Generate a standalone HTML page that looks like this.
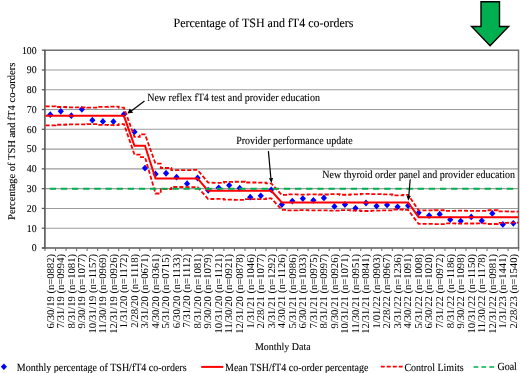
<!DOCTYPE html>
<html><head><meta charset="utf-8"><style>
html,body{margin:0;padding:0;background:#fff;width:520px;height:373px;overflow:hidden}
svg{display:block;font-family:"Liberation Serif",serif;fill:#000;text-rendering:geometricPrecision}
text{fill:#000;stroke:#000;stroke-width:0.1px}
</style></head><body>
<svg width="520" height="373" viewBox="0 0 520 373">
<rect width="520" height="373" fill="#fff"/>
<line x1="45.0" y1="228.22" x2="518.625" y2="228.22" stroke="#9c9c9c" stroke-width="1.1"/>
<line x1="45.0" y1="208.44" x2="518.625" y2="208.44" stroke="#9c9c9c" stroke-width="1.1"/>
<line x1="45.0" y1="188.66" x2="518.625" y2="188.66" stroke="#9c9c9c" stroke-width="1.1"/>
<line x1="45.0" y1="168.88" x2="518.625" y2="168.88" stroke="#9c9c9c" stroke-width="1.1"/>
<line x1="45.0" y1="149.10" x2="518.625" y2="149.10" stroke="#9c9c9c" stroke-width="1.1"/>
<line x1="45.0" y1="129.32" x2="518.625" y2="129.32" stroke="#9c9c9c" stroke-width="1.1"/>
<line x1="45.0" y1="109.54" x2="518.625" y2="109.54" stroke="#9c9c9c" stroke-width="1.1"/>
<line x1="45.0" y1="89.76" x2="518.625" y2="89.76" stroke="#9c9c9c" stroke-width="1.1"/>
<line x1="45.0" y1="69.98" x2="518.625" y2="69.98" stroke="#9c9c9c" stroke-width="1.1"/>
<polyline points="45.0,50.20 518.52,50.20 518.52,248.0" fill="none" stroke="#707070" stroke-width="1.5"/>
<line x1="44.9" y1="49.70" x2="44.9" y2="248.8" stroke="#555" stroke-width="1.6"/>
<line x1="42.0" y1="248.0" x2="519.23" y2="248.0" stroke="#5a5a5a" stroke-width="1.6"/>
<line x1="41.8" y1="248.00" x2="45.0" y2="248.00" stroke="#5a5a5a" stroke-width="1.3"/>
<line x1="41.8" y1="228.22" x2="45.0" y2="228.22" stroke="#5a5a5a" stroke-width="1.3"/>
<line x1="41.8" y1="208.44" x2="45.0" y2="208.44" stroke="#5a5a5a" stroke-width="1.3"/>
<line x1="41.8" y1="188.66" x2="45.0" y2="188.66" stroke="#5a5a5a" stroke-width="1.3"/>
<line x1="41.8" y1="168.88" x2="45.0" y2="168.88" stroke="#5a5a5a" stroke-width="1.3"/>
<line x1="41.8" y1="149.10" x2="45.0" y2="149.10" stroke="#5a5a5a" stroke-width="1.3"/>
<line x1="41.8" y1="129.32" x2="45.0" y2="129.32" stroke="#5a5a5a" stroke-width="1.3"/>
<line x1="41.8" y1="109.54" x2="45.0" y2="109.54" stroke="#5a5a5a" stroke-width="1.3"/>
<line x1="41.8" y1="89.76" x2="45.0" y2="89.76" stroke="#5a5a5a" stroke-width="1.3"/>
<line x1="41.8" y1="69.98" x2="45.0" y2="69.98" stroke="#5a5a5a" stroke-width="1.3"/>
<line x1="41.8" y1="50.20" x2="45.0" y2="50.20" stroke="#5a5a5a" stroke-width="1.3"/>
<line x1="45.00" y1="248.0" x2="45.00" y2="251.0" stroke="#707070" stroke-width="1.1"/>
<line x1="55.52" y1="248.0" x2="55.52" y2="251.0" stroke="#707070" stroke-width="1.1"/>
<line x1="66.05" y1="248.0" x2="66.05" y2="251.0" stroke="#707070" stroke-width="1.1"/>
<line x1="76.58" y1="248.0" x2="76.58" y2="251.0" stroke="#707070" stroke-width="1.1"/>
<line x1="87.10" y1="248.0" x2="87.10" y2="251.0" stroke="#707070" stroke-width="1.1"/>
<line x1="97.62" y1="248.0" x2="97.62" y2="251.0" stroke="#707070" stroke-width="1.1"/>
<line x1="108.15" y1="248.0" x2="108.15" y2="251.0" stroke="#707070" stroke-width="1.1"/>
<line x1="118.67" y1="248.0" x2="118.67" y2="251.0" stroke="#707070" stroke-width="1.1"/>
<line x1="129.20" y1="248.0" x2="129.20" y2="251.0" stroke="#707070" stroke-width="1.1"/>
<line x1="139.73" y1="248.0" x2="139.73" y2="251.0" stroke="#707070" stroke-width="1.1"/>
<line x1="150.25" y1="248.0" x2="150.25" y2="251.0" stroke="#707070" stroke-width="1.1"/>
<line x1="160.78" y1="248.0" x2="160.78" y2="251.0" stroke="#707070" stroke-width="1.1"/>
<line x1="171.30" y1="248.0" x2="171.30" y2="251.0" stroke="#707070" stroke-width="1.1"/>
<line x1="181.83" y1="248.0" x2="181.83" y2="251.0" stroke="#707070" stroke-width="1.1"/>
<line x1="192.35" y1="248.0" x2="192.35" y2="251.0" stroke="#707070" stroke-width="1.1"/>
<line x1="202.88" y1="248.0" x2="202.88" y2="251.0" stroke="#707070" stroke-width="1.1"/>
<line x1="213.40" y1="248.0" x2="213.40" y2="251.0" stroke="#707070" stroke-width="1.1"/>
<line x1="223.93" y1="248.0" x2="223.93" y2="251.0" stroke="#707070" stroke-width="1.1"/>
<line x1="234.45" y1="248.0" x2="234.45" y2="251.0" stroke="#707070" stroke-width="1.1"/>
<line x1="244.97" y1="248.0" x2="244.97" y2="251.0" stroke="#707070" stroke-width="1.1"/>
<line x1="255.50" y1="248.0" x2="255.50" y2="251.0" stroke="#707070" stroke-width="1.1"/>
<line x1="266.02" y1="248.0" x2="266.02" y2="251.0" stroke="#707070" stroke-width="1.1"/>
<line x1="276.55" y1="248.0" x2="276.55" y2="251.0" stroke="#707070" stroke-width="1.1"/>
<line x1="287.08" y1="248.0" x2="287.08" y2="251.0" stroke="#707070" stroke-width="1.1"/>
<line x1="297.60" y1="248.0" x2="297.60" y2="251.0" stroke="#707070" stroke-width="1.1"/>
<line x1="308.12" y1="248.0" x2="308.12" y2="251.0" stroke="#707070" stroke-width="1.1"/>
<line x1="318.65" y1="248.0" x2="318.65" y2="251.0" stroke="#707070" stroke-width="1.1"/>
<line x1="329.18" y1="248.0" x2="329.18" y2="251.0" stroke="#707070" stroke-width="1.1"/>
<line x1="339.70" y1="248.0" x2="339.70" y2="251.0" stroke="#707070" stroke-width="1.1"/>
<line x1="350.23" y1="248.0" x2="350.23" y2="251.0" stroke="#707070" stroke-width="1.1"/>
<line x1="360.75" y1="248.0" x2="360.75" y2="251.0" stroke="#707070" stroke-width="1.1"/>
<line x1="371.28" y1="248.0" x2="371.28" y2="251.0" stroke="#707070" stroke-width="1.1"/>
<line x1="381.80" y1="248.0" x2="381.80" y2="251.0" stroke="#707070" stroke-width="1.1"/>
<line x1="392.32" y1="248.0" x2="392.32" y2="251.0" stroke="#707070" stroke-width="1.1"/>
<line x1="402.85" y1="248.0" x2="402.85" y2="251.0" stroke="#707070" stroke-width="1.1"/>
<line x1="413.38" y1="248.0" x2="413.38" y2="251.0" stroke="#707070" stroke-width="1.1"/>
<line x1="423.90" y1="248.0" x2="423.90" y2="251.0" stroke="#707070" stroke-width="1.1"/>
<line x1="434.43" y1="248.0" x2="434.43" y2="251.0" stroke="#707070" stroke-width="1.1"/>
<line x1="444.95" y1="248.0" x2="444.95" y2="251.0" stroke="#707070" stroke-width="1.1"/>
<line x1="455.48" y1="248.0" x2="455.48" y2="251.0" stroke="#707070" stroke-width="1.1"/>
<line x1="466.00" y1="248.0" x2="466.00" y2="251.0" stroke="#707070" stroke-width="1.1"/>
<line x1="476.53" y1="248.0" x2="476.53" y2="251.0" stroke="#707070" stroke-width="1.1"/>
<line x1="487.05" y1="248.0" x2="487.05" y2="251.0" stroke="#707070" stroke-width="1.1"/>
<line x1="497.57" y1="248.0" x2="497.57" y2="251.0" stroke="#707070" stroke-width="1.1"/>
<line x1="508.10" y1="248.0" x2="508.10" y2="251.0" stroke="#707070" stroke-width="1.1"/>
<line x1="518.62" y1="248.0" x2="518.62" y2="251.0" stroke="#707070" stroke-width="1.1"/>
<path d="M50.26,111.28L53.36,114.68L50.26,118.08L47.16,114.68Z" fill="#0000ff"/>
<path d="M60.79,107.92L63.89,111.32L60.79,114.72L57.69,111.32Z" fill="#0000ff"/>
<path d="M71.31,112.27L74.41,115.67L71.31,119.07L68.21,115.67Z" fill="#0000ff"/>
<path d="M81.84,105.94L84.94,109.34L81.84,112.74L78.74,109.34Z" fill="#0000ff"/>
<path d="M92.36,116.82L95.46,120.22L92.36,123.62L89.26,120.22Z" fill="#0000ff"/>
<path d="M102.89,118.01L105.99,121.41L102.89,124.81L99.79,121.41Z" fill="#0000ff"/>
<path d="M113.41,118.21L116.51,121.61L113.41,125.01L110.31,121.61Z" fill="#0000ff"/>
<path d="M123.94,110.89L127.04,114.29L123.94,117.69L120.84,114.29Z" fill="#0000ff"/>
<path d="M134.46,128.49L137.56,131.89L134.46,135.29L131.36,131.89Z" fill="#0000ff"/>
<path d="M144.99,164.69L148.09,168.09L144.99,171.49L141.89,168.09Z" fill="#0000ff"/>
<path d="M155.51,170.62L158.61,174.02L155.51,177.42L152.41,174.02Z" fill="#0000ff"/>
<path d="M166.04,169.83L169.14,173.23L166.04,176.63L162.94,173.23Z" fill="#0000ff"/>
<path d="M176.56,173.79L179.66,177.19L176.56,180.59L173.46,177.19Z" fill="#0000ff"/>
<path d="M187.09,180.31L190.19,183.72L187.09,187.12L183.99,183.72Z" fill="#0000ff"/>
<path d="M197.61,174.58L200.71,177.98L197.61,181.38L194.51,177.98Z" fill="#0000ff"/>
<path d="M208.14,186.84L211.24,190.24L208.14,193.64L205.04,190.24Z" fill="#0000ff"/>
<path d="M218.66,184.47L221.76,187.87L218.66,191.27L215.56,187.87Z" fill="#0000ff"/>
<path d="M229.19,181.90L232.29,185.30L229.19,188.70L226.09,185.30Z" fill="#0000ff"/>
<path d="M239.71,184.86L242.81,188.26L239.71,191.66L236.61,188.26Z" fill="#0000ff"/>
<path d="M250.24,193.77L253.34,197.17L250.24,200.57L247.14,197.17Z" fill="#0000ff"/>
<path d="M260.76,192.38L263.86,195.78L260.76,199.18L257.66,195.78Z" fill="#0000ff"/>
<path d="M271.29,186.45L274.39,189.85L271.29,193.25L268.19,189.85Z" fill="#0000ff"/>
<path d="M281.81,201.08L284.91,204.48L281.81,207.88L278.71,204.48Z" fill="#0000ff"/>
<path d="M292.34,197.72L295.44,201.12L292.34,204.52L289.24,201.12Z" fill="#0000ff"/>
<path d="M302.86,195.15L305.96,198.55L302.86,201.95L299.76,198.55Z" fill="#0000ff"/>
<path d="M313.39,196.93L316.49,200.33L313.39,203.73L310.29,200.33Z" fill="#0000ff"/>
<path d="M323.91,194.56L327.01,197.96L323.91,201.36L320.81,197.96Z" fill="#0000ff"/>
<path d="M334.44,203.06L337.54,206.46L334.44,209.86L331.34,206.46Z" fill="#0000ff"/>
<path d="M344.96,201.08L348.06,204.48L344.96,207.88L341.86,204.48Z" fill="#0000ff"/>
<path d="M355.49,204.84L358.59,208.24L355.49,211.64L352.39,208.24Z" fill="#0000ff"/>
<path d="M366.01,199.60L369.11,203.00L366.01,206.40L362.91,203.00Z" fill="#0000ff"/>
<path d="M376.54,202.67L379.64,206.07L376.54,209.47L373.44,206.07Z" fill="#0000ff"/>
<path d="M387.06,201.48L390.16,204.88L387.06,208.28L383.96,204.88Z" fill="#0000ff"/>
<path d="M397.59,203.46L400.69,206.86L397.59,210.26L394.49,206.86Z" fill="#0000ff"/>
<path d="M408.11,202.27L411.21,205.67L408.11,209.07L405.01,205.67Z" fill="#0000ff"/>
<path d="M418.64,209.39L421.74,212.79L418.64,216.19L415.54,212.79Z" fill="#0000ff"/>
<path d="M429.16,212.16L432.26,215.56L429.16,218.96L426.06,215.56Z" fill="#0000ff"/>
<path d="M439.69,210.78L442.79,214.18L439.69,217.58L436.59,214.18Z" fill="#0000ff"/>
<path d="M450.21,216.31L453.31,219.71L450.21,223.11L447.11,219.71Z" fill="#0000ff"/>
<path d="M460.74,217.70L463.84,221.10L460.74,224.50L457.64,221.10Z" fill="#0000ff"/>
<path d="M471.26,213.55L474.36,216.95L471.26,220.35L468.16,216.95Z" fill="#0000ff"/>
<path d="M481.79,217.30L484.89,220.70L481.79,224.10L478.69,220.70Z" fill="#0000ff"/>
<path d="M492.31,209.98L495.41,213.38L492.31,216.78L489.21,213.38Z" fill="#0000ff"/>
<path d="M502.84,221.06L505.94,224.46L502.84,227.86L499.74,224.46Z" fill="#0000ff"/>
<path d="M513.36,219.88L516.46,223.28L513.36,226.68L510.26,223.28Z" fill="#0000ff"/>
<polyline points="45.50,106.46 55.52,106.46 55.52,107.01 66.05,107.01 66.05,107.37 76.58,107.37 76.58,107.35 87.10,107.35 87.10,107.65 97.62,107.65 97.62,106.89 108.15,106.89 108.15,106.69 118.67,106.69 118.67,107.71 123.94,107.71 134.46,136.87 139.73,136.87 139.73,134.29 144.99,134.29 155.51,163.67 160.78,163.67 160.78,167.98 171.30,167.98 171.30,170.16 181.83,170.16 181.83,170.08 192.35,170.08 192.35,169.96 197.61,169.96 208.14,182.65 213.40,182.65 213.40,182.80 223.93,182.80 223.93,181.97 234.45,181.97 234.45,181.76 244.97,181.76 244.97,182.52 255.50,182.52 255.50,182.64 266.02,182.64 266.02,183.35 271.29,183.35 281.81,194.96 287.08,194.96 287.08,194.45 297.60,194.45 297.60,194.63 308.12,194.63 308.12,194.40 318.65,194.40 318.65,194.49 329.18,194.49 329.18,194.19 339.70,194.19 339.70,194.77 350.23,194.77 350.23,194.30 360.75,194.30 360.75,193.79 371.28,193.79 371.28,194.09 381.80,194.09 381.80,194.37 392.32,194.37 392.32,195.30 402.85,195.30 402.85,194.84 408.11,194.84 418.64,210.36 423.90,210.36 423.90,210.40 434.43,210.40 434.43,210.24 444.95,210.24 444.95,210.89 455.48,210.89 455.48,210.65 466.00,210.65 466.00,210.79 476.53,210.79 476.53,210.87 487.05,210.87 487.05,210.27 497.57,210.27 497.57,211.47 508.10,211.47 508.10,211.66 518.62,211.66" fill="none" stroke="#ff0000" stroke-width="1.8" stroke-dasharray="4.1 2"/>
<polyline points="45.50,125.28 55.52,125.28 55.52,124.73 66.05,124.73 66.05,124.37 76.58,124.37 76.58,124.38 87.10,124.38 87.10,124.09 97.62,124.09 97.62,124.85 108.15,124.85 108.15,125.05 118.67,125.05 118.67,124.03 123.94,124.03 134.46,154.61 139.73,154.61 139.73,157.18 144.99,157.18 155.51,193.48 160.78,193.48 160.78,189.16 171.30,189.16 171.30,186.99 181.83,186.99 181.83,187.07 192.35,187.07 192.35,187.19 197.61,187.19 208.14,199.02 213.40,199.02 213.40,198.87 223.93,198.87 223.93,199.70 234.45,199.70 234.45,199.91 244.97,199.91 244.97,199.15 255.50,199.15 255.50,199.03 266.02,199.03 266.02,198.32 271.29,198.32 281.81,209.85 287.08,209.85 287.08,210.37 297.60,210.37 297.60,210.18 308.12,210.18 308.12,210.41 318.65,210.41 318.65,210.32 329.18,210.32 329.18,210.62 339.70,210.62 339.70,210.04 350.23,210.04 350.23,210.51 360.75,210.51 360.75,211.02 371.28,211.02 371.28,210.72 381.80,210.72 381.80,210.44 392.32,210.44 392.32,209.52 402.85,209.52 402.85,209.97 408.11,209.97 418.64,223.93 423.90,223.93 423.90,223.89 434.43,223.89 434.43,224.05 444.95,224.05 444.95,223.40 455.48,223.40 455.48,223.64 466.00,223.64 466.00,223.49 476.53,223.49 476.53,223.42 487.05,223.42 487.05,224.02 497.57,224.02 497.57,222.82 508.10,222.82 508.10,222.63 518.62,222.63" fill="none" stroke="#ff0000" stroke-width="1.8" stroke-dasharray="4.1 2"/>
<polyline points="45.50,115.87 55.52,115.87 55.52,115.87 66.05,115.87 66.05,115.87 76.58,115.87 76.58,115.87 87.10,115.87 87.10,115.87 97.62,115.87 97.62,115.87 108.15,115.87 108.15,115.87 118.67,115.87 118.67,115.87 123.94,115.87 134.46,145.74 139.73,145.74 139.73,145.74 144.99,145.74 155.51,178.57 160.78,178.57 160.78,178.57 171.30,178.57 171.30,178.57 181.83,178.57 181.83,178.57 192.35,178.57 192.35,178.57 197.61,178.57 208.14,190.84 213.40,190.84 213.40,190.84 223.93,190.84 223.93,190.84 234.45,190.84 234.45,190.84 244.97,190.84 244.97,190.84 255.50,190.84 255.50,190.84 266.02,190.84 266.02,190.84 271.29,190.84 281.81,202.41 287.08,202.41 287.08,202.41 297.60,202.41 297.60,202.41 308.12,202.41 308.12,202.41 318.65,202.41 318.65,202.41 329.18,202.41 329.18,202.41 339.70,202.41 339.70,202.41 350.23,202.41 350.23,202.41 360.75,202.41 360.75,202.41 371.28,202.41 371.28,202.41 381.80,202.41 381.80,202.41 392.32,202.41 392.32,202.41 402.85,202.41 402.85,202.41 408.11,202.41 418.64,217.14 423.90,217.14 423.90,217.14 434.43,217.14 434.43,217.14 444.95,217.14 444.95,217.14 455.48,217.14 455.48,217.14 466.00,217.14 466.00,217.14 476.53,217.14 476.53,217.14 487.05,217.14 487.05,217.14 497.57,217.14 497.57,217.14 508.10,217.14 508.10,217.14 518.62,217.14" fill="none" stroke="#ff0000" stroke-width="2"/>
<line x1="49.7" y1="188.66" x2="518.625" y2="188.66" stroke="#00b050" stroke-width="2" stroke-dasharray="6.3 4.85"/>
<text x="31.72" y="251.30" font-size="10.5" textLength="4.88" lengthAdjust="spacingAndGlyphs">0</text>
<text x="26.84" y="231.52" font-size="10.5" textLength="9.77" lengthAdjust="spacingAndGlyphs">10</text>
<text x="26.84" y="211.74" font-size="10.5" textLength="9.77" lengthAdjust="spacingAndGlyphs">20</text>
<text x="26.84" y="191.96" font-size="10.5" textLength="9.77" lengthAdjust="spacingAndGlyphs">30</text>
<text x="26.84" y="172.18" font-size="10.5" textLength="9.77" lengthAdjust="spacingAndGlyphs">40</text>
<text x="26.84" y="152.40" font-size="10.5" textLength="9.77" lengthAdjust="spacingAndGlyphs">50</text>
<text x="26.84" y="132.62" font-size="10.5" textLength="9.77" lengthAdjust="spacingAndGlyphs">60</text>
<text x="26.84" y="112.84" font-size="10.5" textLength="9.77" lengthAdjust="spacingAndGlyphs">70</text>
<text x="26.84" y="93.06" font-size="10.5" textLength="9.77" lengthAdjust="spacingAndGlyphs">80</text>
<text x="26.84" y="73.28" font-size="10.5" textLength="9.77" lengthAdjust="spacingAndGlyphs">90</text>
<text x="21.95" y="53.50" font-size="10.5" textLength="14.65" lengthAdjust="spacingAndGlyphs">100</text>
<text transform="translate(53.56,254) rotate(-90)" text-anchor="end" font-size="10.6" style="stroke-width:0">6/30/19 (n=0882)</text>
<text transform="translate(64.09,254) rotate(-90)" text-anchor="end" font-size="10.6" style="stroke-width:0">7/31/19 (n=0994)</text>
<text transform="translate(74.61,254) rotate(-90)" text-anchor="end" font-size="10.6" style="stroke-width:0">8/31/19 (n=1081)</text>
<text transform="translate(85.14,254) rotate(-90)" text-anchor="end" font-size="10.6" style="stroke-width:0">9/30/19 (n=1077)</text>
<text transform="translate(95.66,254) rotate(-90)" text-anchor="end" font-size="10.6" style="stroke-width:0">10/31/19 (n=1157)</text>
<text transform="translate(106.19,254) rotate(-90)" text-anchor="end" font-size="10.6" style="stroke-width:0">11/30/19 (n=0969)</text>
<text transform="translate(116.71,254) rotate(-90)" text-anchor="end" font-size="10.6" style="stroke-width:0">12/31/19 (n=0926)</text>
<text transform="translate(127.24,254) rotate(-90)" text-anchor="end" font-size="10.6" style="stroke-width:0">1/31/20 (n=1172)</text>
<text transform="translate(137.76,254) rotate(-90)" text-anchor="end" font-size="10.6" style="stroke-width:0">2/28/20 (n=1118)</text>
<text transform="translate(148.29,254) rotate(-90)" text-anchor="end" font-size="10.6" style="stroke-width:0">3/31/20 (n=0671)</text>
<text transform="translate(158.81,254) rotate(-90)" text-anchor="end" font-size="10.6" style="stroke-width:0">4/30/20 (n=0361)</text>
<text transform="translate(169.34,254) rotate(-90)" text-anchor="end" font-size="10.6" style="stroke-width:0">5/31/20 (n=0715)</text>
<text transform="translate(179.86,254) rotate(-90)" text-anchor="end" font-size="10.6" style="stroke-width:0">6/30/20 (n=1133)</text>
<text transform="translate(190.39,254) rotate(-90)" text-anchor="end" font-size="10.6" style="stroke-width:0">7/31/20 (n=1112)</text>
<text transform="translate(200.91,254) rotate(-90)" text-anchor="end" font-size="10.6" style="stroke-width:0">8/31/20 (n=1081)</text>
<text transform="translate(211.44,254) rotate(-90)" text-anchor="end" font-size="10.6" style="stroke-width:0">9/30/20 (n=1079)</text>
<text transform="translate(221.96,254) rotate(-90)" text-anchor="end" font-size="10.6" style="stroke-width:0">10/31/20 (n=1121)</text>
<text transform="translate(232.49,254) rotate(-90)" text-anchor="end" font-size="10.6" style="stroke-width:0">11/30/20 (n=0921)</text>
<text transform="translate(243.01,254) rotate(-90)" text-anchor="end" font-size="10.6" style="stroke-width:0">12/31/20 (n=0878)</text>
<text transform="translate(253.54,254) rotate(-90)" text-anchor="end" font-size="10.6" style="stroke-width:0">1/31/21 (n=1046)</text>
<text transform="translate(264.06,254) rotate(-90)" text-anchor="end" font-size="10.6" style="stroke-width:0">2/28/21 (n=1077)</text>
<text transform="translate(274.59,254) rotate(-90)" text-anchor="end" font-size="10.6" style="stroke-width:0">3/31/21 (n=1292)</text>
<text transform="translate(285.11,254) rotate(-90)" text-anchor="end" font-size="10.6" style="stroke-width:0">4/30/21 (n=1126)</text>
<text transform="translate(295.64,254) rotate(-90)" text-anchor="end" font-size="10.6" style="stroke-width:0">5/31/21 (n=0986)</text>
<text transform="translate(306.16,254) rotate(-90)" text-anchor="end" font-size="10.6" style="stroke-width:0">6/30/21 (n=1033)</text>
<text transform="translate(316.69,254) rotate(-90)" text-anchor="end" font-size="10.6" style="stroke-width:0">7/31/21 (n=0975)</text>
<text transform="translate(327.21,254) rotate(-90)" text-anchor="end" font-size="10.6" style="stroke-width:0">8/31/21 (n=0997)</text>
<text transform="translate(337.74,254) rotate(-90)" text-anchor="end" font-size="10.6" style="stroke-width:0">9/30/21 (n=0926)</text>
<text transform="translate(348.26,254) rotate(-90)" text-anchor="end" font-size="10.6" style="stroke-width:0">10/31/21 (n=1071)</text>
<text transform="translate(358.79,254) rotate(-90)" text-anchor="end" font-size="10.6" style="stroke-width:0">11/30/21 (n=0951)</text>
<text transform="translate(369.31,254) rotate(-90)" text-anchor="end" font-size="10.6" style="stroke-width:0">12/31/21 (n=0841)</text>
<text transform="translate(379.84,254) rotate(-90)" text-anchor="end" font-size="10.6" style="stroke-width:0">1/01/22 (n=0903)</text>
<text transform="translate(390.36,254) rotate(-90)" text-anchor="end" font-size="10.6" style="stroke-width:0">2/28/22 (n=0967)</text>
<text transform="translate(400.89,254) rotate(-90)" text-anchor="end" font-size="10.6" style="stroke-width:0">3/31/22 (n=1236)</text>
<text transform="translate(411.41,254) rotate(-90)" text-anchor="end" font-size="10.6" style="stroke-width:0">4/30/22 (n=1091)</text>
<text transform="translate(421.94,254) rotate(-90)" text-anchor="end" font-size="10.6" style="stroke-width:0">5/31/22 (n=1008)</text>
<text transform="translate(432.46,254) rotate(-90)" text-anchor="end" font-size="10.6" style="stroke-width:0">6/30/22 (n=1020)</text>
<text transform="translate(442.99,254) rotate(-90)" text-anchor="end" font-size="10.6" style="stroke-width:0">7/31/22 (n=0972)</text>
<text transform="translate(453.51,254) rotate(-90)" text-anchor="end" font-size="10.6" style="stroke-width:0">8/31/22 (n=1186)</text>
<text transform="translate(464.04,254) rotate(-90)" text-anchor="end" font-size="10.6" style="stroke-width:0">9/30/22 (n=1098)</text>
<text transform="translate(474.56,254) rotate(-90)" text-anchor="end" font-size="10.6" style="stroke-width:0">10/31/22 (n=1150)</text>
<text transform="translate(485.09,254) rotate(-90)" text-anchor="end" font-size="10.6" style="stroke-width:0">11/30/22 (n=1178)</text>
<text transform="translate(495.61,254) rotate(-90)" text-anchor="end" font-size="10.6" style="stroke-width:0">12/31/22 (n=0981)</text>
<text transform="translate(506.14,254) rotate(-90)" text-anchor="end" font-size="10.6" style="stroke-width:0">1/31/23 (n=1441)</text>
<text transform="translate(516.66,254) rotate(-90)" text-anchor="end" font-size="10.6" style="stroke-width:0">2/28/23 (n=1540)</text>
<text transform="translate(15.2,219.9) rotate(-90)" font-size="10.5">Percentage of TSH and</text>
<text transform="translate(15.2,120.5) rotate(-90)" font-size="10.6">fT4 co-orders</text>
<text x="173.5" y="26.6" font-size="12.7" textLength="180" lengthAdjust="spacingAndGlyphs">Percentage of TSH and fT4 co-orders</text>
<text x="254.9" y="349.6" font-size="10.5" textLength="55.8" lengthAdjust="spacingAndGlyphs">Monthly Data</text>
<text x="147.2" y="100.6" font-size="11" textLength="172.7" lengthAdjust="spacingAndGlyphs">New reflex fT4 test and provider education</text>
<line x1="144.5" y1="101" x2="131.2" y2="110.9" stroke="#000" stroke-width="1.2"/>
<path d="M127.3,113.4 L129.8,108.6 L133.2,112.7 Z" fill="#000"/>
<text x="236.2" y="144.1" font-size="11" textLength="116.6" lengthAdjust="spacingAndGlyphs">Provider performance update</text>
<line x1="268.4" y1="151.1" x2="270.9" y2="178.6" stroke="#000" stroke-width="1.2"/>
<path d="M271.5,183 L268.9,178.2 L273.1,177.9 Z" fill="#000"/>
<text x="322.3" y="178.3" font-size="11" textLength="192.7" lengthAdjust="spacingAndGlyphs">New thyroid order panel and provider education</text>
<line x1="410.2" y1="179.3" x2="408.8" y2="196" stroke="#000" stroke-width="1.2"/>
<path d="M408.3,200.8 L406.6,195.7 L410.8,196.1 Z" fill="#000"/>
<path d="M481,1.8 L499.5,1.8 L499.5,26.5 L508.6,26.5 L490.1,45.8 L471.6,26.5 L481,26.5 Z" fill="#00b050" stroke="#000" stroke-width="1.4" stroke-linejoin="miter"/>
<path d="M3.9,363.4 L7,366.7 L3.9,370 L0.8,366.7 Z" fill="#0000ff"/>
<text x="16.8" y="370.5" font-size="11" textLength="169.8" lengthAdjust="spacingAndGlyphs">Monthly percentage of TSH/fT4 co-orders</text>
<line x1="201.2" y1="366.9" x2="223.3" y2="366.9" stroke="#ff0000" stroke-width="2"/>
<text x="225" y="370.5" font-size="11" textLength="143.4" lengthAdjust="spacingAndGlyphs">Mean TSH/fT4 co-order percentage</text>
<line x1="380.8" y1="366.7" x2="403" y2="366.7" stroke="#ff0000" stroke-width="1.7" stroke-dasharray="3.9 2.1"/>
<text x="404.4" y="370.5" font-size="11" textLength="59.2" lengthAdjust="spacingAndGlyphs">Control Limits</text>
<line x1="473.5" y1="367" x2="495.2" y2="367" stroke="#00b050" stroke-width="1.6" stroke-dasharray="4.8 3.1"/>
<text x="497.4" y="369.8" font-size="11" textLength="19.5" lengthAdjust="spacingAndGlyphs">Goal</text>
</svg>
</body></html>
